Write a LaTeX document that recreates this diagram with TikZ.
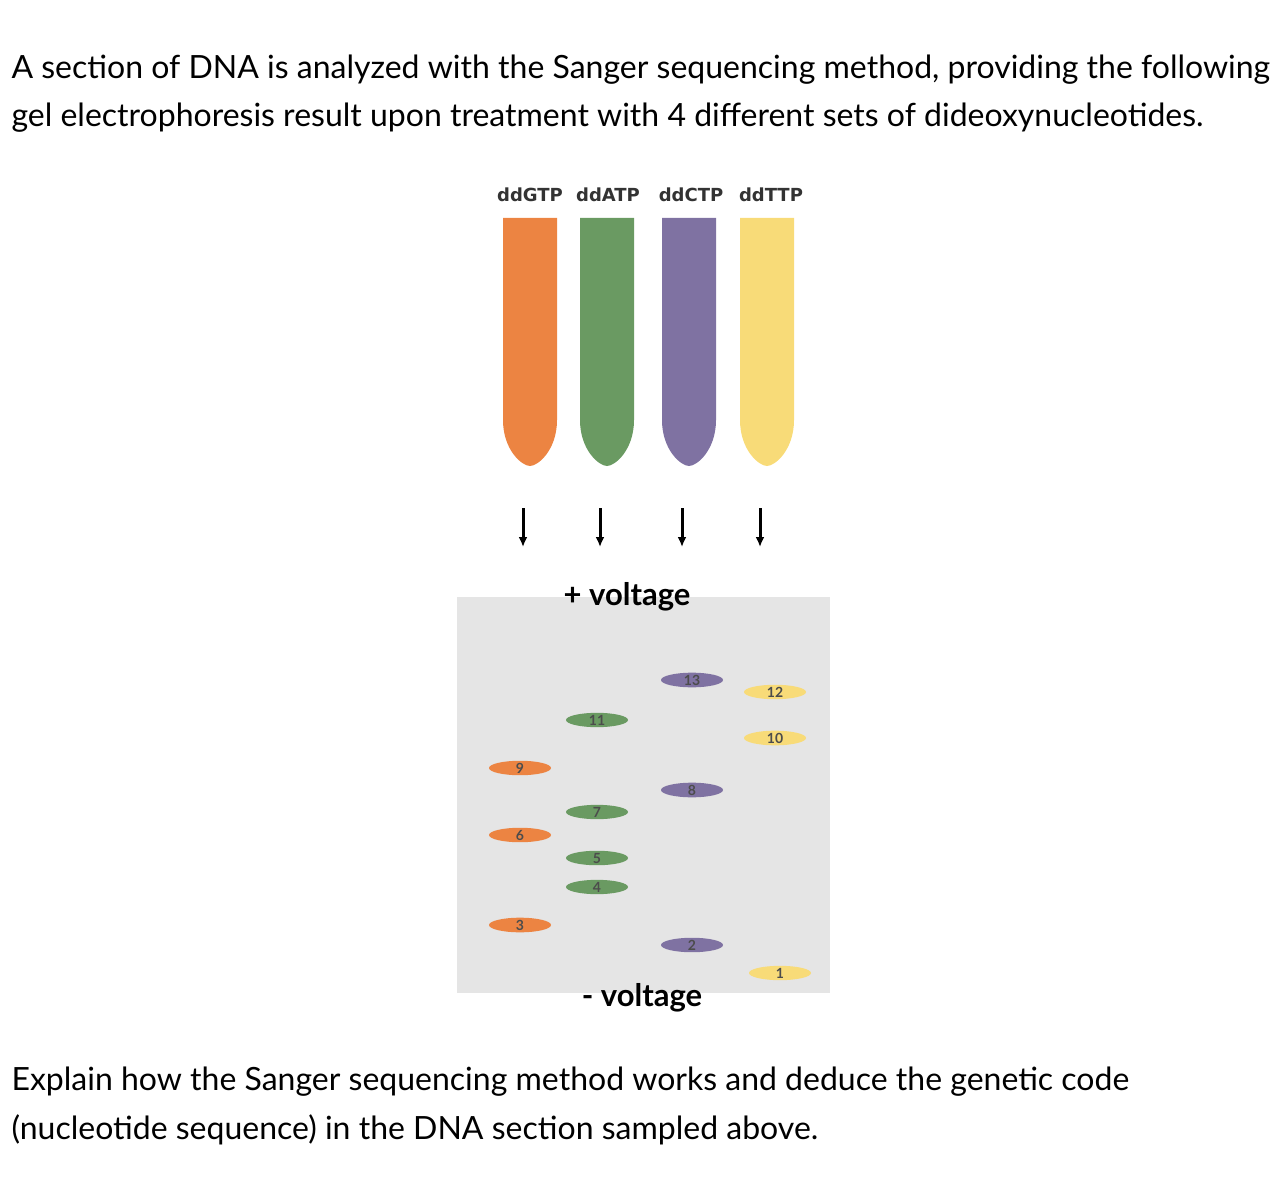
\documentclass[tikz,border=0pt]{standalone}
\usetikzlibrary{arrows.meta,shapes.geometric}
\usepackage{fontspec}
\setmainfont{Lato}
\newfontfamily\lblfont{DejaVu Sans}
\definecolor{og}{HTML}{EC8442}
\definecolor{gr}{HTML}{6A9A62}
\definecolor{pu}{HTML}{7F72A2}
\definecolor{ye}{HTML}{F8DB78}
\begin{document}
\begin{tikzpicture}[x=1pt,y=-1pt,
  body/.style={anchor=west,font=\fontsize{32}{38}\selectfont},
  lane/.style={font=\lblfont\bfseries\fontsize{18}{20}\selectfont,text=black!80},
  arr/.style={line width=3pt,-{Latex[length=10pt,width=9pt]}},
  band/.style={ellipse,minimum width=62pt,minimum height=11pt,inner sep=0,font=\fontsize{14}{14}\selectfont\bfseries,text=black!70}]
\useasboundingbox (0,0) rectangle (1287,1198);
\node[body] (t1) at (8,70) {A section of DNA is analyzed with the Sanger sequencing method, providing the following};
\node[body] (t2) at (8,118) {gel electrophoresis result upon treatment with 4 different sets of dideoxynucleotides.};
\foreach \n/\x/\c/\l in {g/530/og/ddGTP,a/608/gr/ddATP,c/691/pu/ddCTP,t/771/ye/ddTTP}{
  \node[lane] (l\n) at (\x,195) {\l};
}
\foreach \n/\x/\c in {g/530/og,a/607/gr,c/689/pu,t/767/ye}{
  \fill[\c] (\x-27,218) -- (\x+27,218) -- (\x+27,420) .. controls (\x+27,450) and (\x+8,466) .. (\x,466) .. controls (\x-8,466) and (\x-27,450) .. (\x-27,420) -- cycle;
  \coordinate (a\n) at (\x-7,508);
  \coordinate (b\n) at (\x-7,547);
  \draw[arr] (a\n) -- (b\n);
}
\fill[black!10] (457,597) rectangle (830,993);
\node[font=\fontsize{31}{36}\selectfont\bfseries] (pv) at (627,597) {+ voltage};
\node[font=\fontsize{31}{36}\selectfont\bfseries] (mv) at (642,998) {- voltage};
\foreach \x/\y/\c/\l in {692/680/pu/13,775/692/ye/12,597/720/gr/11,775/738/ye/10,520/768/og/9,692/790/pu/8,597/812/gr/7,520/835/og/6,597/858/gr/5,597/887/gr/4,520/925/og/3,692/945/pu/2,780/973/ye/1}{
  \node[band,fill=\c] (b\l) at (\x,\y) {\l};
}
\node[body] (t3) at (8,1082) {Explain how the Sanger sequencing method works and deduce the genetic code};
\node[body] (t4) at (8,1130) {(nucleotide sequence) in the DNA section sampled above.};
\end{tikzpicture}
\end{document}
